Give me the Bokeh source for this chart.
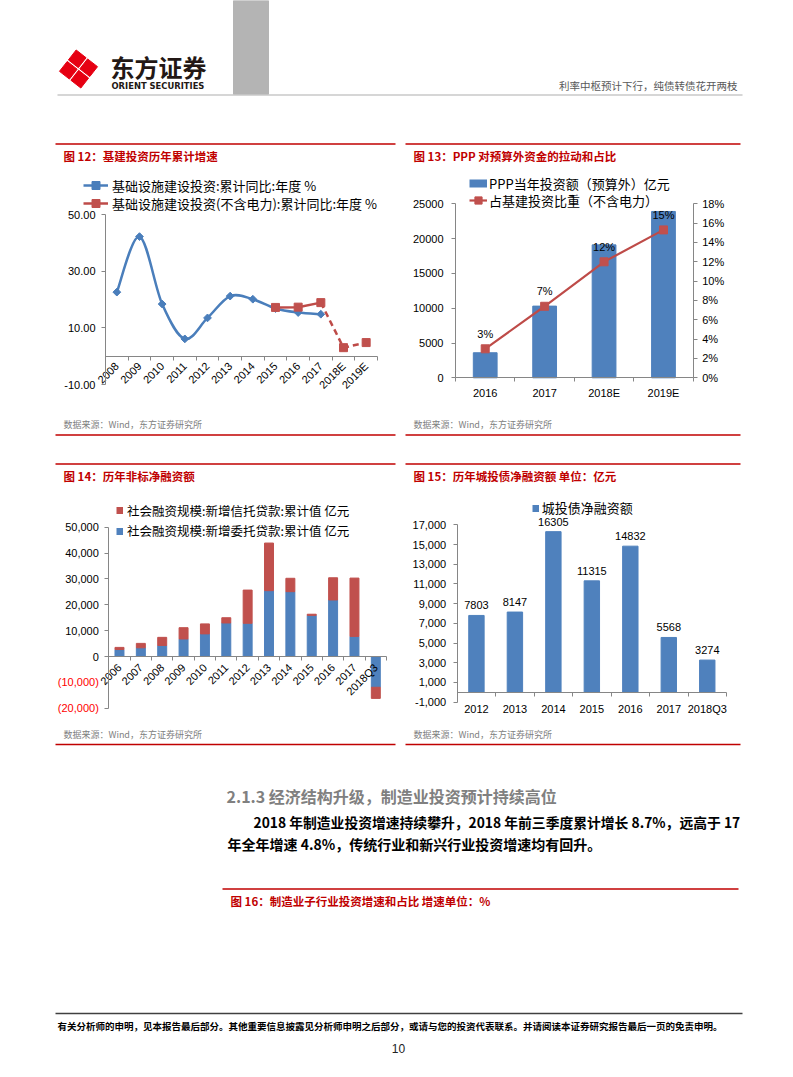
import numpy as np
from math import pi
from bokeh.plotting import figure
from bokeh.models import (Range1d, LinearAxis, FixedTicker, NumeralTickFormatter,
                          PrintfTickFormatter, Legend, LegendItem)
from bokeh.layouts import column, row
from bokeh.core.properties import value
from bokeh.embed import file_html
from bokeh.resources import INLINE

CJK = "Noto Sans CJK SC"
LAT = "Liberation Sans"
BLUE = "#4F81BD"
BLUE_LINE = "#4A7EBB"
RED = "#C0504D"
RED_LINE = "#BE4B48"
AX = "#868686"
TRED = "#C00000"
LRED = "#C00000"

# ---------------- data ----------------
c12_years = ["2008", "2009", "2010", "2011", "2012", "2013", "2014", "2015",
             "2016", "2017", "2018E", "2019E"]
c12_infra_years = ["2008", "2009", "2010", "2011", "2012", "2013", "2014",
                   "2015", "2016", "2017"]
c12_infra = [22.6, 42.2, 18.4, 6.1, 13.5, 21.2, 20.1, 16.8, 15.4, 14.8]
c12_infra_ex_years = ["2015", "2016", "2017", "2018E", "2019E"]
c12_infra_ex = [17.2, 17.3, 18.9, 3.0, 4.8]
c12_yticks = [-10, 10, 30, 50]

c13_years = ["2016", "2017", "2018E", "2019E"]
c13_ppp = [3600, 10300, 19100, 23900]
c13_share = [3.0, 7.4, 12.0, 15.3]
c13_yticks = [0, 5000, 10000, 15000, 20000, 25000]
c13_pticks = [0, 2, 4, 6, 8, 10, 12, 14, 16, 18]

c14_years = ["2006", "2007", "2008", "2009", "2010", "2011", "2012", "2013",
             "2014", "2015", "2016", "2017", "2018Q3"]
c14_entrusted = [2695, 3371, 4262, 6780, 8748, 12962, 12838, 25466, 25069,
                 15911, 21854, 7770, -11900]
c14_trust = [825, 1702, 3144, 4364, 3865, 2034, 12845, 18404, 5174, 434,
             8593, 22555, -4300]
c14_pos_ticks = [0, 10000, 20000, 30000, 40000, 50000]
c14_neg_ticks = [-10000, -20000]

c15_years = ["2012", "2013", "2014", "2015", "2016", "2017", "2018Q3"]
c15_net = [7803, 8147, 16305, 11315, 14832, 5568, 3274]
c15_yticks = [-1000, 1000, 3000, 5000, 7000, 9000, 11000, 13000, 15000, 17000]


# ---------------- helpers ----------------
def lin(d0, p0, d1, p1, pix):
    return d0 + (pix - p0) * (d1 - d0) / (p1 - p0)


def chart_fig(left, top, w, h, xa, ya):
    """Figure whose frame is the whole canvas; xa/ya = (d0, pixel0, d1, pixel1)."""
    xr = Range1d(lin(*xa, left), lin(*xa, left + w))
    yr = Range1d(lin(*ya, top + h), lin(*ya, top))
    p = figure(width=w, height=h, x_range=xr, y_range=yr, title=None,
               output_backend="svg", toolbar_location=None, min_border=0)
    p.xgrid.visible = False
    p.ygrid.visible = False
    p.outline_line_color = None
    return p


def style_axis(ax, size="11px"):
    ax.axis_line_color = AX
    ax.major_tick_line_color = AX
    ax.minor_tick_line_color = AX
    ax.major_tick_in = 0
    ax.minor_tick_in = 0
    ax.major_tick_out = 4
    ax.minor_tick_out = 0
    ax.major_label_text_font = LAT
    ax.major_label_text_font_size = size
    ax.major_label_text_color = "#000000"


def cat_x_axis(ax, labels, rotate=False, standoff=6):
    n = len(labels)
    centers = [int(2 * i + 1) for i in range(n)]
    bounds = [int(2 * i) for i in range(n + 1)]
    style_axis(ax)
    ax.ticker = FixedTicker(ticks=centers, minor_ticks=bounds)
    ax.major_label_overrides = {c: s for c, s in zip(centers, labels)}
    ax.major_tick_out = 0
    ax.minor_tick_out = 4
    ax.major_label_standoff = standoff
    ax.bounds = (0, 2 * n)
    if rotate:
        ax.major_label_orientation = pi / 4


def legend(p, label, rends, loc, gw, standoff, size="13px", lh=20):
    lg = Legend(items=[LegendItem(label=label, renderers=rends)], location=loc,
                glyph_width=gw, glyph_height=lh, label_height=lh,
                label_standoff=standoff, padding=0, margin=0, spacing=0,
                background_fill_alpha=0, border_line_color=None,
                label_text_font=CJK, label_text_font_size=size,
                label_text_color="#000000")
    p.add_layout(lg)
    return lg


def swatch(p, color, width):
    # legend proxy: a single NaN point, so nothing is drawn in the plot itself
    return p.line(x=[np.nan], y=[np.nan], line_color=color, line_width=width,
                  line_cap="butt")


def strip(h, top, w=785):
    p = figure(width=w, height=h, x_range=Range1d(0, w),
               y_range=Range1d(top + h, top), title=None,
               output_backend="svg", toolbar_location=None, min_border=0,
               x_axis_location=None, y_axis_location=None)
    p.grid.visible = False
    p.outline_line_color = None
    return p


def txt(p, x, y, s, size, color="#000000", font=CJK, bold=False, align="left"):
    p.text(x=[x], y=[y], text=[s], text_font=value(font),
           text_font_size=value(size), text_color=color,
           text_font_style="bold" if bold else "normal",
           text_align=align, text_baseline="middle")


def hline(p, x0, x1, y, color, w):
    p.segment(x0=[x0], y0=[y], x1=[x1], y1=[y], line_color=color, line_width=w)


# ---------------- chart 12 ----------------
n12 = len(c12_years)
p12 = chart_fig(0, 172, 400, 240, (0, 105, 2 * n12, 377),
                (c12_yticks[0], 384, c12_yticks[-1], 214))
xb = np.array([2 * c12_years.index(y) + 1 for y in c12_infra_years], float)
yb = np.array(c12_infra, float)
xp = np.concatenate([[xb[0]], xb, [xb[-1]]])
yp = np.concatenate([[yb[0]], yb, [yb[-1]]])
tx = (xp[2:] - xp[:-2]) / 2.0
ty = (yp[2:] - yp[:-2]) / 2.0
blue_curve = p12.bezier(x0=xb[:-1], y0=yb[:-1], x1=xb[1:], y1=yb[1:],
                        cx0=xb[:-1] + tx[:-1] / 3, cy0=yb[:-1] + ty[:-1] / 3,
                        cx1=xb[1:] - tx[1:] / 3, cy1=yb[1:] - ty[1:] / 3,
                        line_color=BLUE_LINE, line_width=2.5)
blue_pts = p12.scatter(xb, yb, marker="square", angle=pi / 4, size=5.5,
                       color=BLUE_LINE)
xr_ = np.array([2 * c12_years.index(y) + 1 for y in c12_infra_ex_years], float)
k = c12_infra_ex_years.index("2017") + 1
red_solid = p12.line(xr_[:k], c12_infra_ex[:k], line_color=RED_LINE, line_width=2.5)
red_dash = p12.line(xr_[k - 1:], c12_infra_ex[k - 1:], line_color=RED_LINE,
                    line_width=2.5, line_dash="6 4")
red_pts = p12.scatter(xr_, c12_infra_ex, marker="square", size=8, color=RED)

ya = p12.yaxis[0]
style_axis(ya)
ya.fixed_location = 0
ya.bounds = (c12_yticks[0], c12_yticks[-1])
ya.ticker = FixedTicker(ticks=c12_yticks)
ya.formatter = NumeralTickFormatter(format="0.00")
ya.major_label_standoff = 6
xa = p12.xaxis[0]
xa.fixed_location = 0
cat_x_axis(xa, c12_years, rotate=True, standoff=4)

legend(p12, "基础设施建设投资:累计同比:年度 %", [blue_curve, blue_pts],
       (83, 412 - 185 - 10), 25, 4)
legend(p12, "基础设施建设投资(不含电力):累计同比:年度 %", [red_solid, red_pts],
       (83, 412 - 203 - 10), 25, 4)

# ---------------- chart 13 ----------------
n13 = len(c13_years)
p13 = chart_fig(400, 172, 385, 240, (0, 455, 2 * n13, 692.7),
                (c13_yticks[0], 377.3, c13_yticks[-1], 203.3))
p13.extra_y_ranges = {"pct": Range1d(lin(c13_pticks[0], 377.3, c13_pticks[-1], 203.3, 412),
                                     lin(c13_pticks[0], 377.3, c13_pticks[-1], 203.3, 172))}
x13 = [2 * i + 1 for i in range(n13)]
p13.vbar(x=x13, top=c13_ppp, width=0.8, color=BLUE)
l13 = p13.line(x13, c13_share, y_range_name="pct", line_color=RED_LINE, line_width=2.2)
s13 = p13.scatter(x13, c13_share, y_range_name="pct", marker="square", size=8, color=RED)
p13.text(x=x13, y=c13_share, text=[f"{v:.0f}%" for v in c13_share],
         y_range_name="pct", y_offset=-15, text_font=value(LAT),
         text_font_size=value("11px"), text_color="#000000",
         text_align="center", text_baseline="middle")
bar_proxy13 = swatch(p13, BLUE, 8)

ya = p13.yaxis[0]
style_axis(ya)
ya.fixed_location = 0
ya.bounds = (c13_yticks[0], c13_yticks[-1])
ya.ticker = FixedTicker(ticks=c13_yticks)
ya.formatter = NumeralTickFormatter(format="0")
ya.major_label_standoff = 8
ra = LinearAxis(y_range_name="pct", fixed_location=2 * n13)
style_axis(ra)
ra.bounds = (c13_pticks[0], c13_pticks[-1])
ra.ticker = FixedTicker(ticks=c13_pticks)
ra.formatter = PrintfTickFormatter(format="%d%%")
ra.major_label_standoff = 5
p13.add_layout(ra, "right")
xa = p13.xaxis[0]
xa.fixed_location = 0
cat_x_axis(xa, c13_years, standoff=5)

legend(p13, "PPP当年投资额（预算外）亿元", [bar_proxy13],
       (469 - 400, 412 - 183 - 10), 18, 2)
legend(p13, "占基建投资比重（不含电力）", [l13, s13],
       (469 - 400, 412 - 200 - 10), 18, 2)

# ---------------- chart 14 ----------------
n14 = len(c14_years)
p14 = chart_fig(0, 497, 400, 225, (0, 108.3, 2 * n14, 386),
                (0, 656, c14_pos_ticks[-1], 526.7))
x14 = [2 * i + 1 for i in range(n14)]
ent = np.array(c14_entrusted, float)
tru = np.array(c14_trust, float)
p14.vbar(x=x14, bottom=0, top=ent, width=0.84, color=BLUE)
p14.vbar(x=x14, bottom=ent, top=ent + tru, width=0.84, color=RED)
pr_red = swatch(p14, RED, 7)
pr_blue = swatch(p14, BLUE, 7)

ya = p14.yaxis[0]
style_axis(ya)
ya.fixed_location = 0
ya.bounds = (c14_neg_ticks[-1], c14_pos_ticks[-1])
ya.ticker = FixedTicker(ticks=c14_pos_ticks)
ya.formatter = NumeralTickFormatter(format="0,0")
ya.major_label_standoff = 6
na = LinearAxis(fixed_location=0)
style_axis(na)
na.axis_line_color = None
na.bounds = (c14_neg_ticks[-1], 0)
na.ticker = FixedTicker(ticks=c14_neg_ticks)
na.formatter = NumeralTickFormatter(format="(0,0)")
na.major_label_text_color = "#FF0000"
na.major_label_standoff = 6
p14.add_layout(na, "left")
xa = p14.xaxis[0]
xa.fixed_location = 0
cat_x_axis(xa, c14_years, rotate=True, standoff=5)

legend(p14, "社会融资规模:新增信托贷款:累计值 亿元", [pr_red],
       (116, 722 - 510 - 10), 7, 4, "12.5px")
legend(p14, "社会融资规模:新增委托贷款:累计值 亿元", [pr_blue],
       (116, 722 - 530.7 - 10), 7, 4, "12.5px")

# ---------------- chart 15 ----------------
n15 = len(c15_years)
p15 = chart_fig(400, 497, 385, 225, (0, 456.7, 2 * n15, 726),
                (c15_yticks[0], 701.7, c15_yticks[-1], 524.3))
x15 = [2 * i + 1 for i in range(n15)]
p15.vbar(x=x15, top=c15_net, width=0.8, color=BLUE)
p15.text(x=x15, y=c15_net, text=[str(v) for v in c15_net], y_offset=-10,
         text_font=value(LAT), text_font_size=value("11px"), text_color="#000000",
         text_align="center", text_baseline="middle")
pr15 = swatch(p15, BLUE, 7)

ya = p15.yaxis[0]
style_axis(ya)
ya.fixed_location = 0
ya.bounds = (c15_yticks[0], c15_yticks[-1])
ya.ticker = FixedTicker(ticks=c15_yticks)
ya.formatter = NumeralTickFormatter(format="0,0")
ya.major_label_standoff = 7
xa = p15.xaxis[0]
xa.fixed_location = c15_yticks[0]
cat_x_axis(xa, c15_years, standoff=1)
xa.axis_line_color = None
xa.minor_tick_out = 0
za = LinearAxis(fixed_location=0)
style_axis(za)
za.bounds = (0, 2 * n15)
za.ticker = FixedTicker(ticks=[int(2 * i) for i in range(n15 + 1)])
za.major_label_text_color = None
p15.add_layout(za, "below")

legend(p15, "城投债净融资额", [pr15], (531.7 - 400, 722 - 507.7 - 10), 7, 3)

# ---------------- page strips ----------------
SRC = "数据来源：Wind，东方证券研究所"

# strip A : header + chart 12/13 titles
sA = strip(172, 0)
sA.quad(left=[233], right=[268], top=[0], bottom=[94], color="#b4b4b4")
th = np.deg2rad(38)
S = 29.0
cx0, cy0 = 78.0, 68.5
u = np.array([np.cos(th), np.sin(th)]) * S / 4
v = np.array([-np.sin(th), np.cos(th)]) * S / 4
logo_c = [np.array([cx0, cy0]) + a * u + b * v for a in (-1, 1) for b in (-1, 1)]
sA.rect(x=[c[0] for c in logo_c], y=[c[1] for c in logo_c], width=12.6, height=12.6,
        angle=-th, color="#E60012")
txt(sA, 110, 66, "东方证券", "24px", "#231815", bold=True)
txt(sA, 111, 85.5, "ORIENT SECURITIES", "8.4px", "#231815", font="DejaVu Sans", bold=True)
txt(sA, 737, 85, "利率中枢预计下行，纯债转债花开两枝", "10.5px", "#595959", align="right")
hline(sA, 57, 742, 94.5, "#c8c8c8", 1.5)
hline(sA, 55, 395, 143.5, LRED, 1.5)
hline(sA, 405, 740, 143.5, LRED, 1.5)
txt(sA, 63, 155.5, "图 12：基建投资历年累计增速", "11.5px", TRED, bold=True)
txt(sA, 413, 155.5, "图 13：PPP 对预算外资金的拉动和占比", "11.5px", TRED, bold=True)

# strip C
sC = strip(85, 412)
txt(sC, 63, 423.5, SRC, "9px", "#808080")
txt(sC, 413, 423.5, SRC, "9px", "#808080")
hline(sC, 55, 395, 434.5, LRED, 1.5)
hline(sC, 405, 740, 434.5, LRED, 1.5)
hline(sC, 55, 395, 463.5, LRED, 1.5)
hline(sC, 405, 740, 463.5, LRED, 1.5)
txt(sC, 63, 475.5, "图 14：历年非标净融资额", "11.5px", TRED, bold=True)
txt(sC, 413, 475.5, "图 15：历年城投债净融资额 单位：亿元", "11.5px", TRED, bold=True)

# strip E
sE = strip(338, 722)
txt(sE, 63, 733.5, SRC, "9px", "#808080")
txt(sE, 413, 733.5, SRC, "9px", "#808080")
hline(sE, 55, 395, 744, LRED, 1.5)
hline(sE, 405, 740, 744, LRED, 1.5)
txt(sE, 226, 795, "2.1.3 经济结构升级，制造业投资预计持续高位", "16px", "#808080", bold=True)
txt(sE, 253, 821, "2018 年制造业投资增速持续攀升，2018 年前三季度累计增长 8.7%，远高于 17",
    "13.8px", "#000000", bold=True)
txt(sE, 227, 843, "年全年增速 4.8%，传统行业和新兴行业投资增速均有回升。", "14px",
    "#000000", bold=True)
hline(sE, 222, 738, 888.5, LRED, 1.5)
txt(sE, 230, 900.5, "图 16：制造业子行业投资增速和占比  增速单位：%", "11.5px", TRED, bold=True)
hline(sE, 55, 742, 1013, "#404040", 1.5)
txt(sE, 57, 1025, "有关分析师的申明，见本报告最后部分。其他重要信息披露见分析师申明之后部分，或请与您的投资代表联系。并请阅读本证券研究报告最后一页的免责申明。",
    "9.5px", "#000000", bold=True)
txt(sE, 398, 1047.5, "10", "12px", "#222222", font=LAT, align="center")

page = column(sA, row(p12, p13), sC, row(p14, p15), sE)
open("out.html", "w").write(file_html(page, INLINE))
